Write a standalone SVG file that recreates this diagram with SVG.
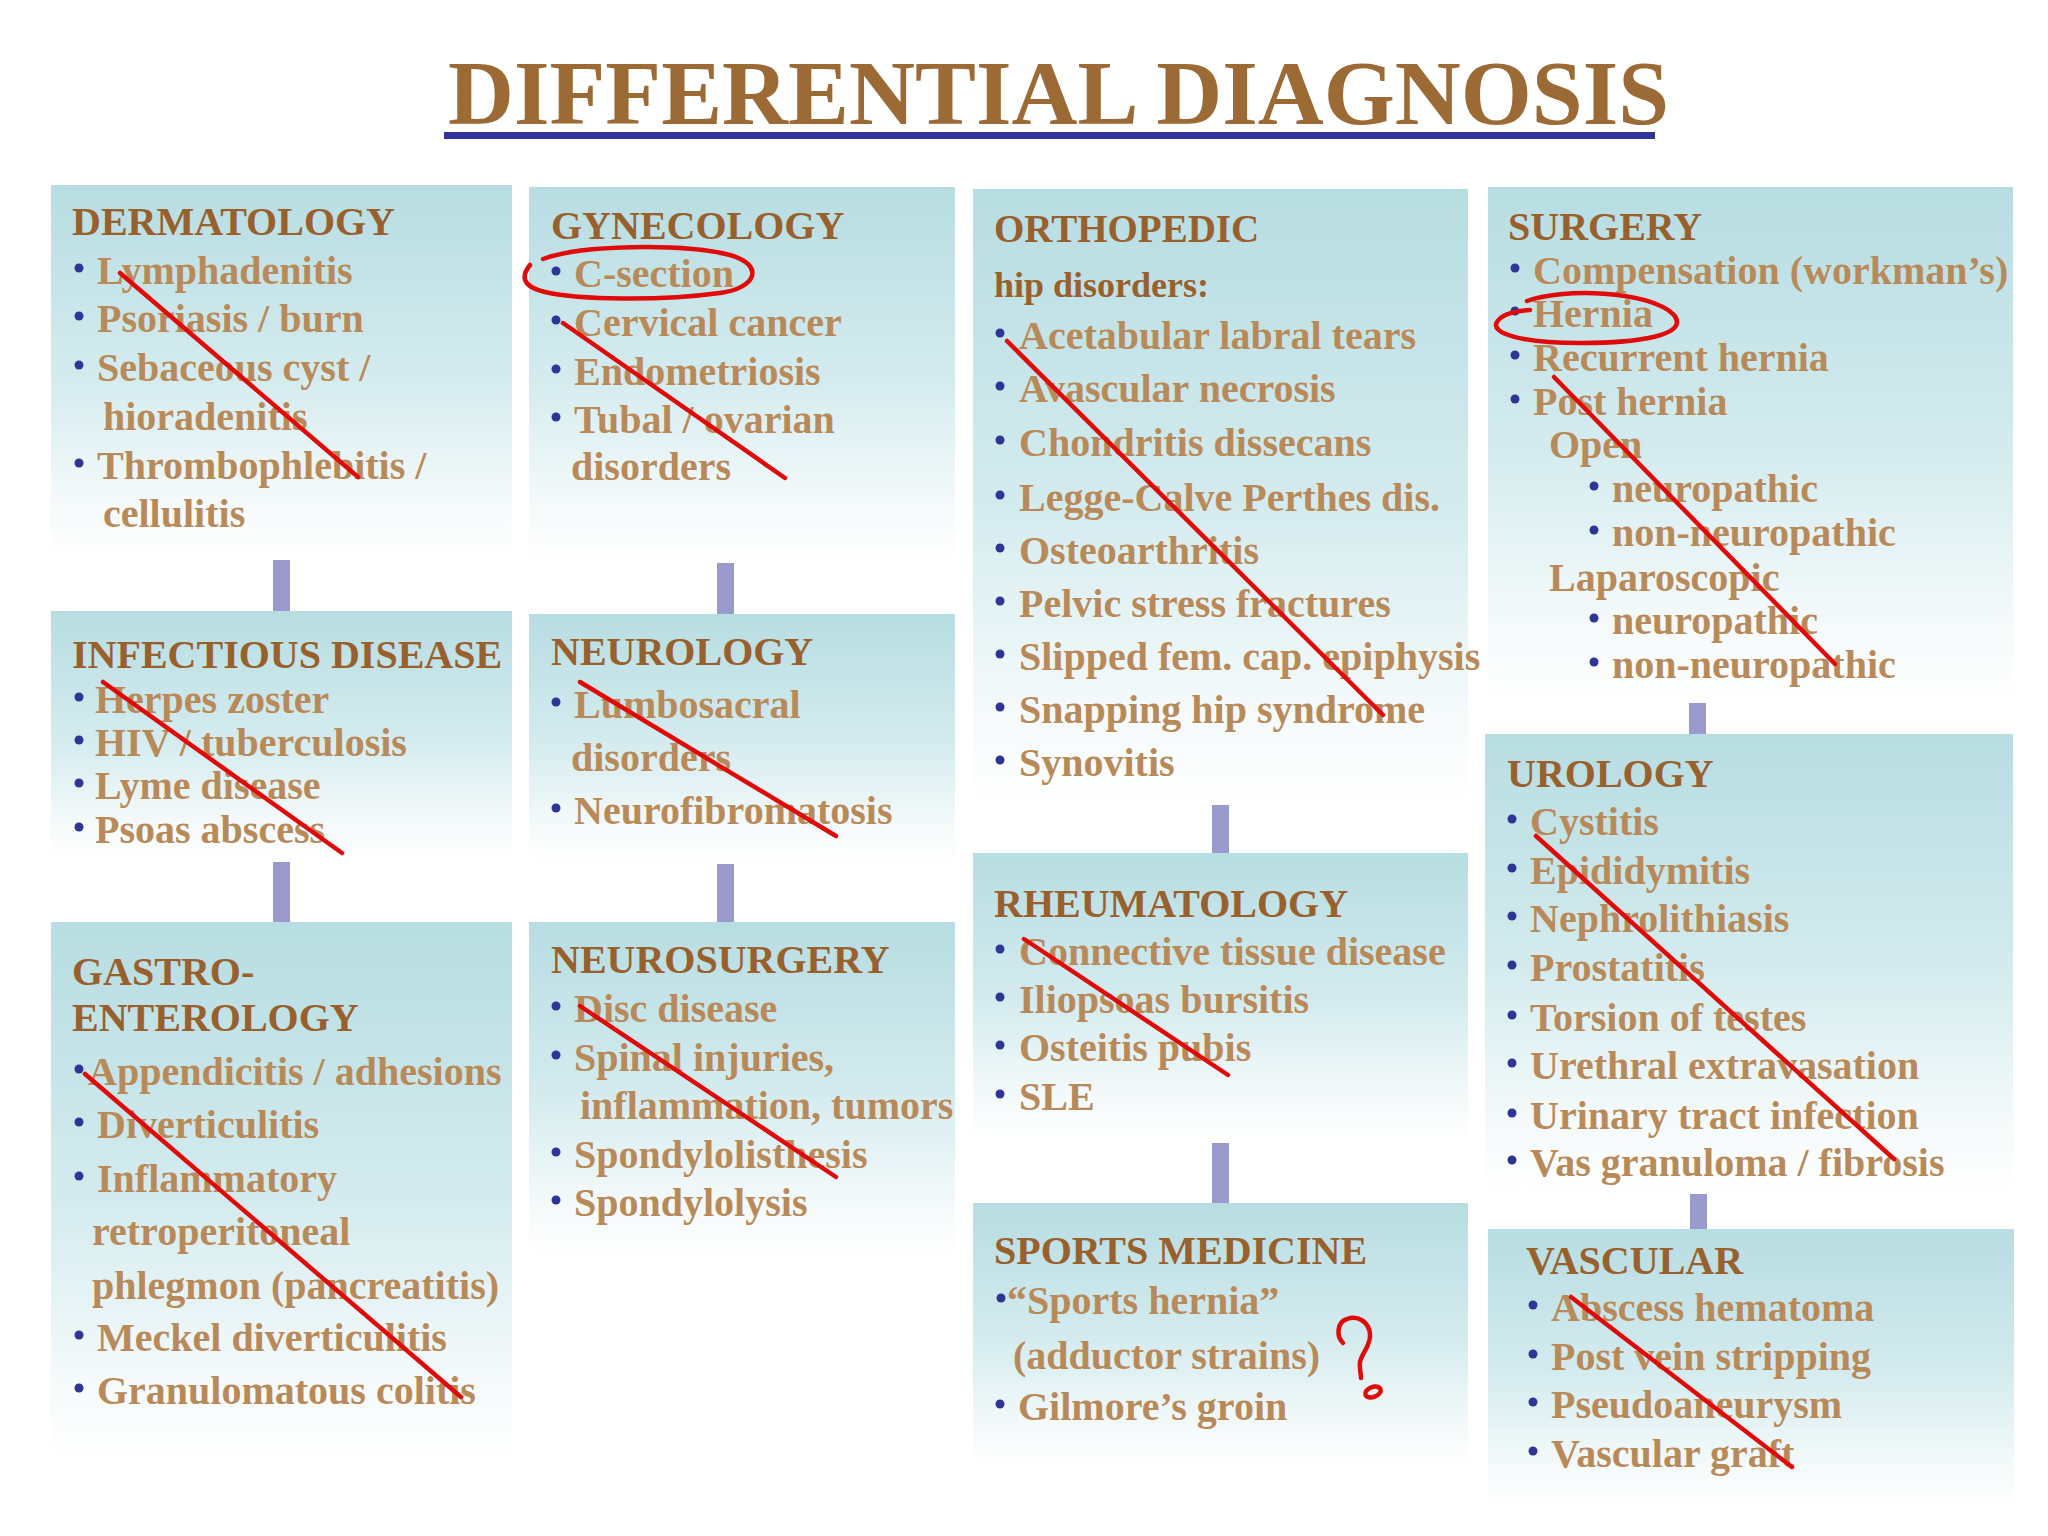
<svg xmlns="http://www.w3.org/2000/svg" width="2048" height="1536" viewBox="0 0 2048 1536">
<defs>
<linearGradient id="boxg" x1="0" y1="0" x2="0" y2="1">
<stop offset="0" stop-color="#B7DDE2"/>
<stop offset="0.5" stop-color="#D3EBEE"/>
<stop offset="0.85" stop-color="#F5FAFB"/>
<stop offset="1" stop-color="#FFFFFF"/>
</linearGradient>
<style>
text{font-family:"Liberation Serif","Times New Roman",serif;font-weight:bold;}
.title{font-size:92px;fill:#9C6A34;}
.hd{font-size:40px;fill:#98602D;}
.it{font-size:40px;fill:#B98A59;}
.sub{font-size:36px;fill:#98602D;}
.hd,.it,.sub,.bul{transform:translate(0px,2px);}
.box{fill:url(#boxg);}
.bul{fill:#2E3594;}
.con{fill:#9A9ACC;}
.red{stroke:#E00A0A;stroke-width:4.5;fill:none;stroke-linecap:round;stroke-linejoin:round;}
</style>
</defs>
<rect width="2048" height="1536" fill="#FFFFFF"/>
<g id="title">
<text class="title" x="448" y="124" textLength="1221" lengthAdjust="spacingAndGlyphs">DIFFERENTIAL DIAGNOSIS</text>
<rect x="444" y="132" width="1211" height="7" fill="#333399"/>
</g>
<g id="connectors">
<rect class="con" x="273" y="560" width="17" height="51"/>
<rect class="con" x="273" y="862" width="17" height="60"/>
<rect class="con" x="717" y="563" width="17" height="51"/>
<rect class="con" x="717" y="864" width="17" height="58"/>
<rect class="con" x="1212" y="805" width="17" height="48"/>
<rect class="con" x="1212" y="1143" width="17" height="60"/>
<rect class="con" x="1689" y="703" width="17" height="31"/>
<rect class="con" x="1690" y="1194" width="17" height="35"/>
</g>
<g id="dermatology">
<rect class="box" x="51" y="185" width="461" height="375"/>
<text class="hd" x="72" y="233">DERMATOLOGY</text>
<circle class="bul" cx="79" cy="266" r="4.5"/><text class="it" x="97" y="282">Lymphadenitis</text>
<circle class="bul" cx="79" cy="314" r="4.5"/><text class="it" x="97" y="330">Psoriasis / burn</text>
<circle class="bul" cx="79" cy="363" r="4.5"/><text class="it" x="97" y="379">Sebaceous cyst /</text>
<text class="it" x="103" y="428">hioradenitis</text>
<circle class="bul" cx="79" cy="461" r="4.5"/><text class="it" x="97" y="477">Thrombophlebitis /</text>
<text class="it" x="103" y="525">cellulitis</text>
<line class="red" x1="120" y1="273" x2="358" y2="477"/>
</g>
<g id="infectious">
<rect class="box" x="51" y="611" width="461" height="251"/>
<text class="hd" x="72" y="666">INFECTIOUS DISEASE</text>
<circle class="bul" cx="79" cy="695" r="4.5"/><text class="it" x="95" y="711">Herpes zoster</text>
<circle class="bul" cx="79" cy="738" r="4.5"/><text class="it" x="95" y="754">HIV / tuberculosis</text>
<circle class="bul" cx="79" cy="781" r="4.5"/><text class="it" x="95" y="797">Lyme disease</text>
<circle class="bul" cx="79" cy="825" r="4.5"/><text class="it" x="95" y="841">Psoas abscess</text>
<line class="red" x1="103" y1="682" x2="342" y2="853"/>
</g>
<g id="gastroenterology">
<rect class="box" x="51" y="922" width="461" height="540"/>
<text class="hd" x="72" y="983">GASTRO-</text>
<text class="hd" x="72" y="1029">ENTEROLOGY</text>
<circle class="bul" cx="79" cy="1067" r="4.5"/><text class="it" x="88" y="1083">Appendicitis / adhesions</text>
<circle class="bul" cx="79" cy="1120" r="4.5"/><text class="it" x="97" y="1136">Diverticulitis</text>
<circle class="bul" cx="79" cy="1174" r="4.5"/><text class="it" x="97" y="1190">Inflammatory</text>
<text class="it" x="92" y="1243">retroperitoneal</text>
<text class="it" x="92" y="1297">phlegmon (pancreatitis)</text>
<circle class="bul" cx="79" cy="1333" r="4.5"/><text class="it" x="97" y="1349">Meckel diverticulitis</text>
<circle class="bul" cx="79" cy="1386" r="4.5"/><text class="it" x="97" y="1402">Granulomatous colitis</text>
<line class="red" x1="85" y1="1074" x2="461" y2="1397"/>
</g>
<g id="gynecology">
<rect class="box" x="529" y="187" width="426" height="376"/>
<text class="hd" x="551" y="237">GYNECOLOGY</text>
<circle class="bul" cx="556" cy="269" r="4.5"/><text class="it" x="574" y="285">C-section</text>
<circle class="bul" cx="556" cy="318" r="4.5"/><text class="it" x="574" y="334">Cervical cancer</text>
<circle class="bul" cx="556" cy="367" r="4.5"/><text class="it" x="574" y="383">Endometriosis</text>
<circle class="bul" cx="556" cy="415" r="4.5"/><text class="it" x="574" y="431">Tubal / ovarian</text>
<text class="it" x="571" y="478">disorders</text>
<line class="red" x1="563" y1="323" x2="785" y2="478"/>
<path class="red" d="M543,259 C580,245 680,243 730,255 C765,265 757,288 720,293 C660,301 580,300 545,292 C520,286 522,275 530,265"/>
</g>
<g id="neurology">
<rect class="box" x="529" y="614" width="426" height="250"/>
<text class="hd" x="551" y="663">NEUROLOGY</text>
<circle class="bul" cx="556" cy="700" r="4.5"/><text class="it" x="574" y="716">Lumbosacral</text>
<text class="it" x="571" y="769">disorders</text>
<circle class="bul" cx="556" cy="806" r="4.5"/><text class="it" x="574" y="822">Neurofibromatosis</text>
<line class="red" x1="580" y1="682" x2="836" y2="836"/>
</g>
<g id="neurosurgery">
<rect class="box" x="529" y="922" width="426" height="335"/>
<text class="hd" x="551" y="971">NEUROSURGERY</text>
<circle class="bul" cx="556" cy="1004" r="4.5"/><text class="it" x="574" y="1020">Disc disease</text>
<circle class="bul" cx="556" cy="1053" r="4.5"/><text class="it" x="574" y="1069">Spinal injuries,</text>
<text class="it" x="580" y="1117">inflammation, tumors</text>
<circle class="bul" cx="556" cy="1150" r="4.5"/><text class="it" x="574" y="1166">Spondylolisthesis</text>
<circle class="bul" cx="556" cy="1198" r="4.5"/><text class="it" x="574" y="1214">Spondylolysis</text>
<line class="red" x1="580" y1="1006" x2="836" y2="1177"/>
</g>
<g id="orthopedic">
<rect class="box" x="973" y="189" width="495" height="616"/>
<text class="hd" x="994" y="240" style="font-size:39px">ORTHOPEDIC</text>
<text class="sub" x="994" y="295">hip disorders:</text>
<circle class="bul" cx="1000" cy="331" r="4.5"/><text class="it" x="1019" y="347">Acetabular labral tears</text>
<circle class="bul" cx="1000" cy="384" r="4.5"/><text class="it" x="1019" y="400">Avascular necrosis</text>
<circle class="bul" cx="1000" cy="438" r="4.5"/><text class="it" x="1019" y="454">Chondritis dissecans</text>
<circle class="bul" cx="1000" cy="493" r="4.5"/><text class="it" x="1019" y="509">Legge-Calve Perthes dis.</text>
<circle class="bul" cx="1000" cy="546" r="4.5"/><text class="it" x="1019" y="562">Osteoarthritis</text>
<circle class="bul" cx="1000" cy="599" r="4.5"/><text class="it" x="1019" y="615">Pelvic stress fractures</text>
<circle class="bul" cx="1000" cy="652" r="4.5"/><text class="it" x="1019" y="668">Slipped fem. cap. epiphysis</text>
<circle class="bul" cx="1000" cy="705" r="4.5"/><text class="it" x="1019" y="721">Snapping hip syndrome</text>
<circle class="bul" cx="1000" cy="758" r="4.5"/><text class="it" x="1019" y="774">Synovitis</text>
<line class="red" x1="1007" y1="341" x2="1383" y2="715"/>
</g>
<g id="rheumatology">
<rect class="box" x="973" y="853" width="495" height="290"/>
<text class="hd" x="994" y="915">RHEUMATOLOGY</text>
<circle class="bul" cx="1000" cy="947" r="4.5"/><text class="it" x="1019" y="963">Connective tissue disease</text>
<circle class="bul" cx="1000" cy="995" r="4.5"/><text class="it" x="1019" y="1011">Iliopsoas bursitis</text>
<circle class="bul" cx="1000" cy="1043" r="4.5"/><text class="it" x="1019" y="1059">Osteitis pubis</text>
<circle class="bul" cx="1000" cy="1092" r="4.5"/><text class="it" x="1019" y="1108">SLE</text>
<line class="red" x1="1024" y1="939" x2="1228" y2="1075"/>
</g>
<g id="sports-medicine">
<rect class="box" x="973" y="1203" width="495" height="265"/>
<text class="hd" x="994" y="1262">SPORTS MEDICINE</text>
<circle class="bul" cx="1001" cy="1296" r="4.5"/><text class="it" x="1007" y="1312">“Sports hernia”</text>
<text class="it" x="1013" y="1367">(adductor strains)</text>
<circle class="bul" cx="1000" cy="1402" r="4.5"/><text class="it" x="1018" y="1418">Gilmore’s groin</text>
<path class="red" d="M1343,1343 C1336,1336 1337,1322 1347,1319 C1358,1315 1369,1322 1370,1334 C1371,1346 1362,1352 1360,1362 C1359,1368 1361,1373 1361,1378"/>
<ellipse class="red" cx="1373" cy="1392" rx="8" ry="5" transform="rotate(-20 1373 1392)"/>
</g>
<g id="surgery">
<rect class="box" x="1488" y="187" width="525" height="516"/>
<text class="hd" x="1508" y="238">SURGERY</text>
<circle class="bul" cx="1515" cy="266" r="4.5"/><text class="it" x="1533" y="282">Compensation (workman’s)</text>
<circle class="bul" cx="1515" cy="309" r="4.5"/><text class="it" x="1533" y="325">Hernia</text>
<circle class="bul" cx="1515" cy="353" r="4.5"/><text class="it" x="1533" y="369">Recurrent hernia</text>
<circle class="bul" cx="1515" cy="397" r="4.5"/><text class="it" x="1533" y="413">Post hernia</text>
<text class="it" x="1549" y="456">Open</text>
<circle class="bul" cx="1594" cy="484" r="4.5"/><text class="it" x="1612" y="500">neuropathic</text>
<circle class="bul" cx="1594" cy="528" r="4.5"/><text class="it" x="1612" y="544">non-neuropathic</text>
<text class="it" x="1549" y="589">Laparoscopic</text>
<circle class="bul" cx="1594" cy="616" r="4.5"/><text class="it" x="1612" y="632">neuropathic</text>
<circle class="bul" cx="1594" cy="660" r="4.5"/><text class="it" x="1612" y="676">non-neuropathic</text>
<line class="red" x1="1554" y1="377" x2="1835" y2="664"/>
<path class="red" d="M1527,301 C1560,288 1650,290 1674,315 C1690,335 1640,343 1580,343 C1520,343 1490,333 1497,322 C1502,314 1515,311 1530,310"/>
</g>
<g id="urology">
<rect class="box" x="1485" y="734" width="528" height="460"/>
<text class="hd" x="1507" y="785">UROLOGY</text>
<circle class="bul" cx="1512" cy="817" r="4.5"/><text class="it" x="1530" y="833">Cystitis</text>
<circle class="bul" cx="1512" cy="866" r="4.5"/><text class="it" x="1530" y="882">Epididymitis</text>
<circle class="bul" cx="1512" cy="914" r="4.5"/><text class="it" x="1530" y="930">Nephrolithiasis</text>
<circle class="bul" cx="1512" cy="963" r="4.5"/><text class="it" x="1530" y="979">Prostatitis</text>
<circle class="bul" cx="1512" cy="1013" r="4.5"/><text class="it" x="1530" y="1029">Torsion of testes</text>
<circle class="bul" cx="1512" cy="1061" r="4.5"/><text class="it" x="1530" y="1077">Urethral extravasation</text>
<circle class="bul" cx="1512" cy="1111" r="4.5"/><text class="it" x="1530" y="1127">Urinary tract infection</text>
<circle class="bul" cx="1512" cy="1158" r="4.5"/><text class="it" x="1530" y="1174">Vas granuloma / fibrosis</text>
<line class="red" x1="1536" y1="836" x2="1894" y2="1159"/>
</g>
<g id="vascular">
<rect class="box" x="1488" y="1229" width="526" height="280"/>
<text class="hd" x="1526" y="1272">VASCULAR</text>
<circle class="bul" cx="1533" cy="1303" r="4.5"/><text class="it" x="1551" y="1319">Abscess hematoma</text>
<circle class="bul" cx="1533" cy="1352" r="4.5"/><text class="it" x="1551" y="1368">Post vein stripping</text>
<circle class="bul" cx="1533" cy="1400" r="4.5"/><text class="it" x="1551" y="1416">Pseudoaneurysm</text>
<circle class="bul" cx="1533" cy="1449" r="4.5"/><text class="it" x="1551" y="1465">Vascular graft</text>
<line class="red" x1="1571" y1="1297" x2="1792" y2="1467"/>
</g>
</svg>
